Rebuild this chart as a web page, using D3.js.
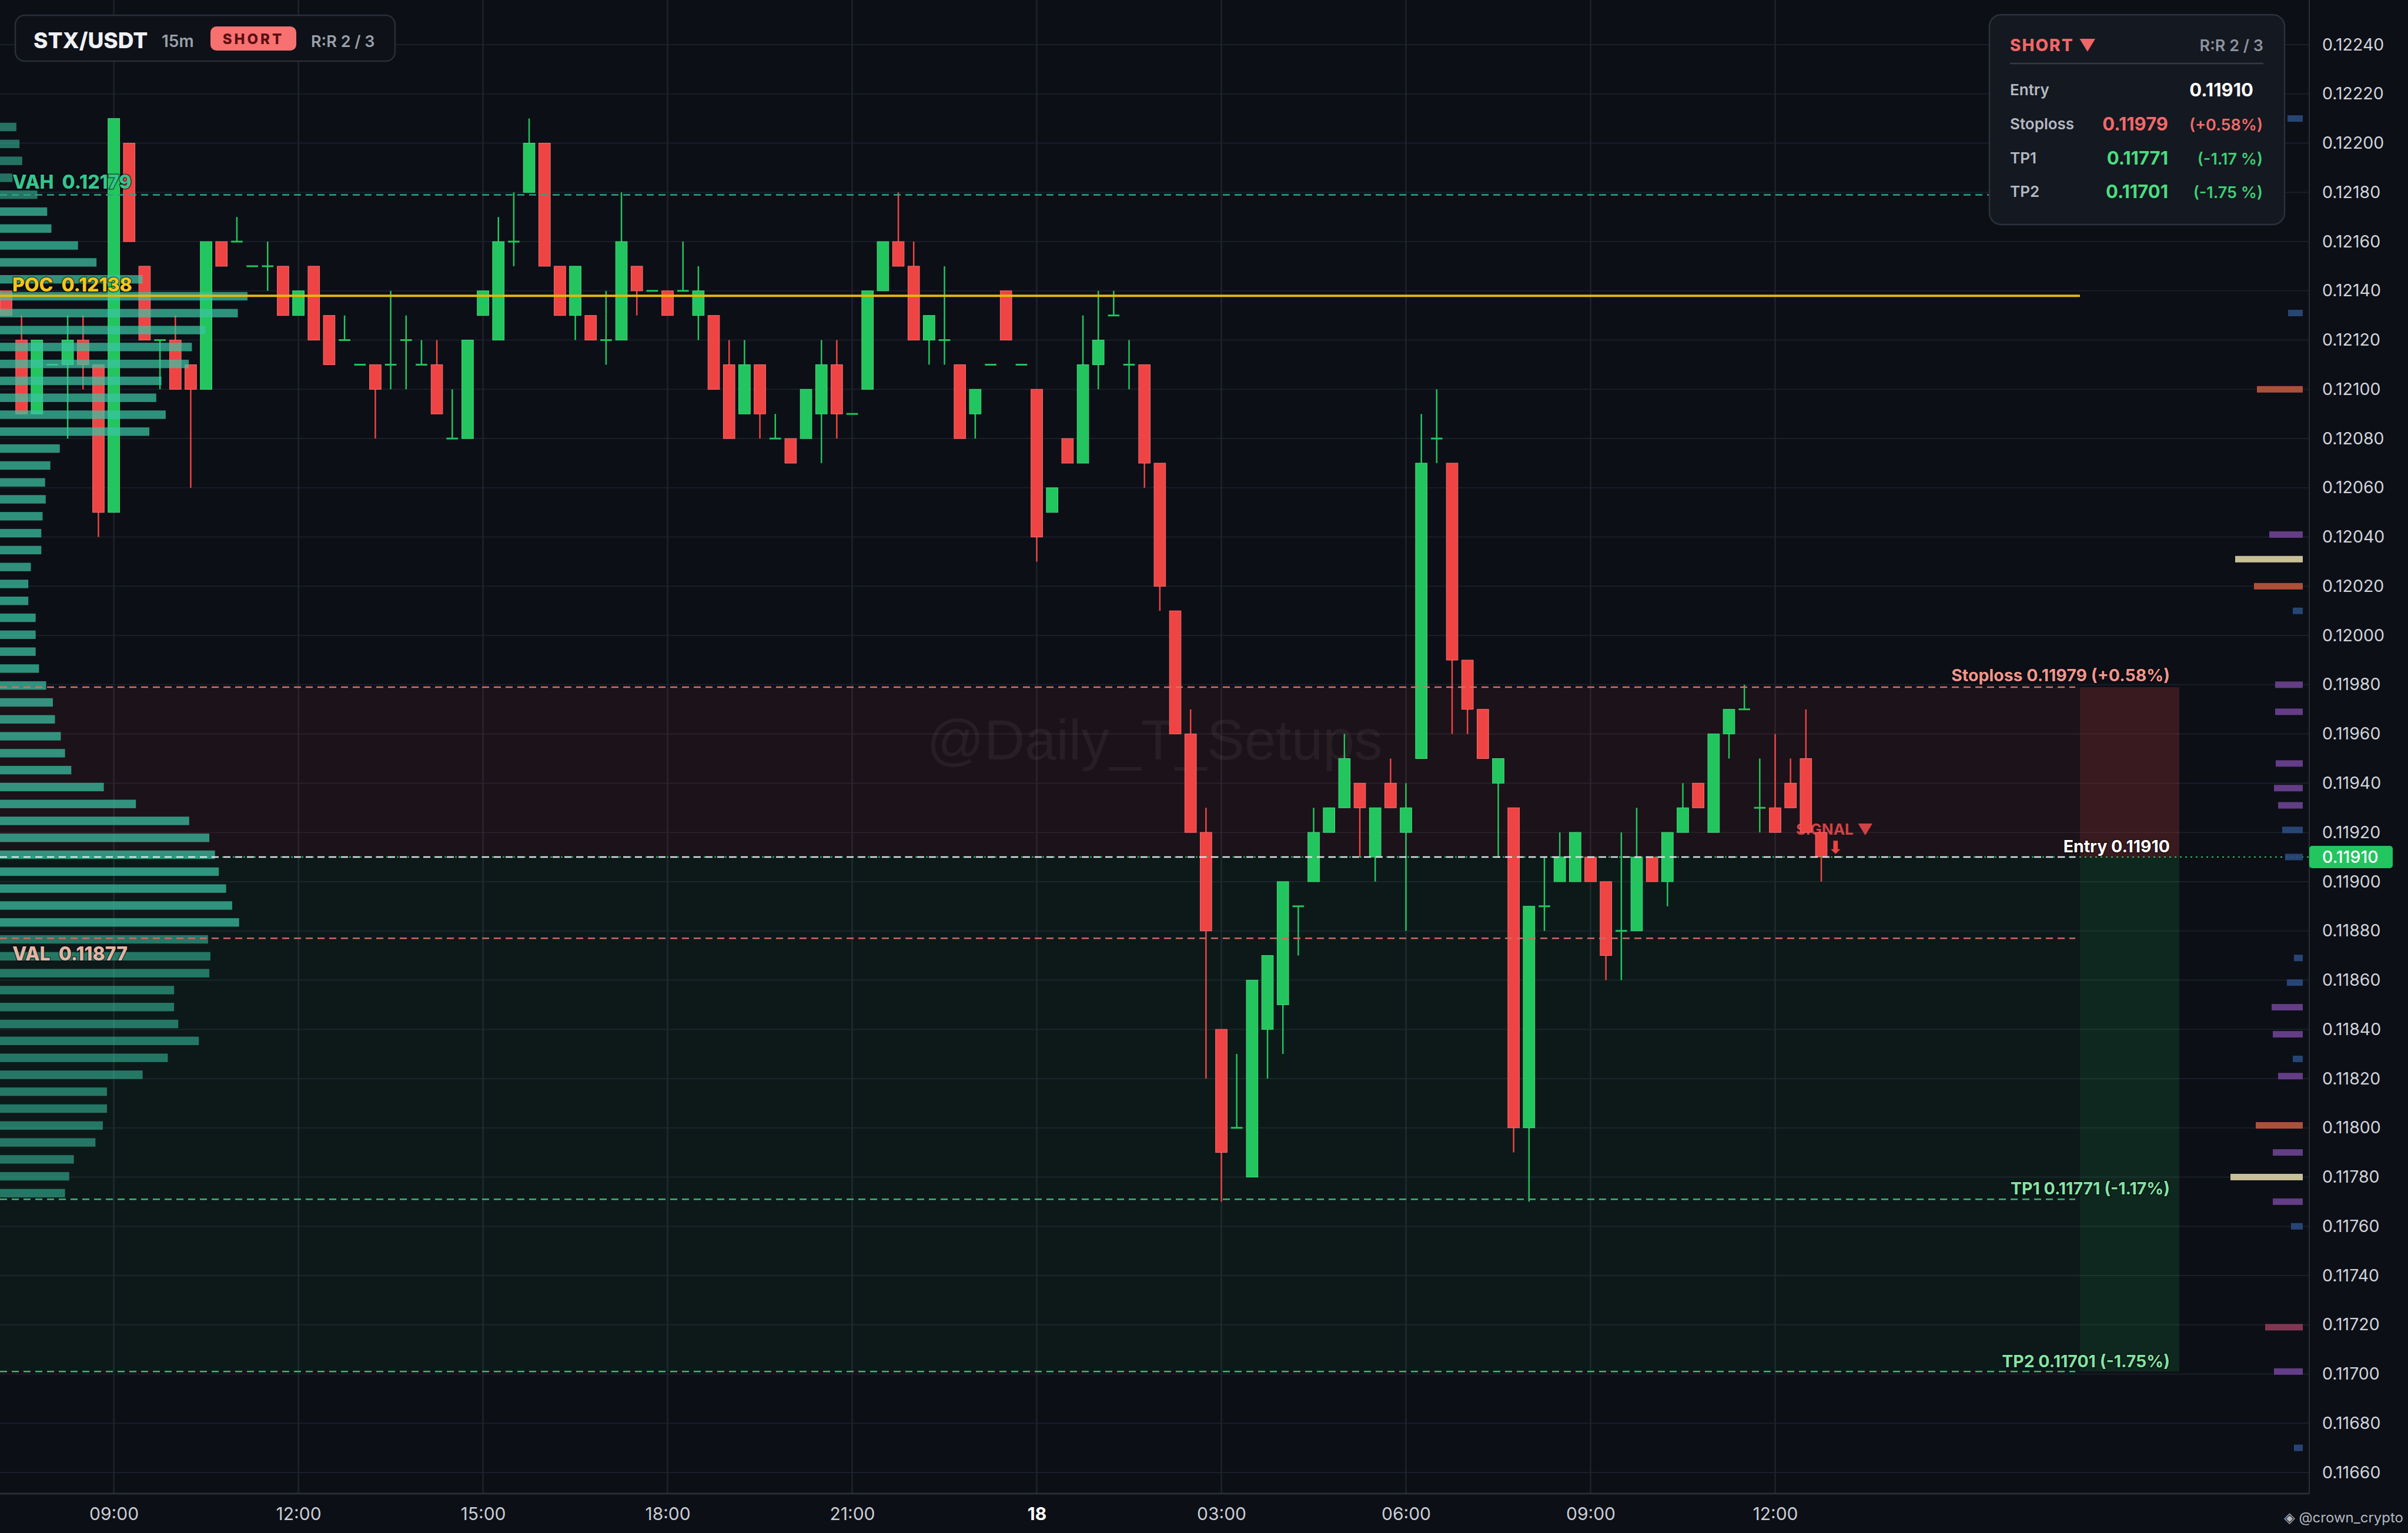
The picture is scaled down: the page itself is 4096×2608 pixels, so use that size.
<!DOCTYPE html>
<html><head><meta charset="utf-8"><title>STX/USDT 15m</title>
<script src="https://cdn.jsdelivr.net/npm/d3@7/dist/d3.min.js"></script>
<style>
html,body{margin:0;padding:0;background:#0c0f16;overflow:hidden}
svg{display:block}
text{font-family:Inter,"Noto Sans","DejaVu Sans",sans-serif}
</style></head><body>
<svg id="c" width="4096" height="2608"></svg>
<script>
// ---------------- DATA ----------------
const candleStart = "2025-06-17T07:15:00Z"; // 15m candles
const opens = [
.1214,.1212,.1209,.1211,.1211,.1212,.1211,.1205,.1220,.1215,
.1212,.1212,.1211,.1210,.1216,.1216,.1215,.1215,.1215,.1213,
.1215,.1213,.1212,.1211,.1211,.1211,.1212,.1211,.1211,.1208,
.1208,.1213,.1212,.1216,.1218,.1220,.1215,.1213,.1213,.1212,
.1212,.1215,.1214,.1214,.1214,.1213,.1213,.1211,.1209,.1211,
.1208,.1208,.1208,.1209,.1211,.1209,.1210,.1214,.1216,.1215,
.1212,.1212,.1211,.1209,.1211,.1214,.1211,.1210,.1205,.1208,
.1207,.1211,.1213,.1211,.1211,.1207,.1201,.1196,.1192,.1184,
.1180,.1178,.1184,.1185,.1189,.1190,.1192,.1193,.1194,.1191,
.1194,.1192,.1195,.1208,.1207,.1199,.1197,.1194,.1193,.1180,
.1189,.1190,.1190,.1191,.1190,.1188,.1188,.1191,.1190,.1192,
.1194,.1192,.1196,.1197,.1193,.1193,.1194,.1195,.1192];
const highs = [
.1214,.1213,.1212,.1211,.1213,.1213,.1211,.1221,.1220,.1215,
.1212,.1213,.1211,.1216,.1216,.1217,.1215,.1216,.1215,.1214,
.1215,.1213,.1213,.1211,.1211,.1214,.1213,.1212,.1212,.1210,
.1212,.1214,.1217,.1218,.1221,.1220,.1215,.1215,.1213,.1214,
.1218,.1215,.1214,.1214,.1216,.1215,.1213,.1212,.1212,.1211,
.1209,.1208,.1210,.1212,.1212,.1209,.1214,.1216,.1218,.1216,
.1213,.1215,.1211,.1210,.1211,.1214,.1211,.1210,.1206,.1208,
.1213,.1214,.1214,.1212,.1211,.1207,.1201,.1197,.1193,.1184,
.1183,.1186,.1187,.1190,.1189,.1193,.1193,.1196,.1194,.1193,
.1195,.1194,.1209,.1210,.1207,.1199,.1197,.1195,.1193,.1189,
.1191,.1192,.1192,.1191,.1190,.1192,.1193,.1191,.1192,.1194,
.1194,.1196,.1197,.1198,.1195,.1196,.1195,.1197,.1192];
const lows = [
.1213,.1209,.1209,.1211,.1208,.1210,.1204,.1205,.1216,.1212,
.1210,.1210,.1206,.1210,.1215,.1216,.1215,.1214,.1213,.1213,
.1212,.1211,.1212,.1211,.1208,.1210,.1210,.1211,.1209,.1208,
.1208,.1213,.1212,.1215,.1218,.1215,.1213,.1212,.1212,.1211,
.1212,.1213,.1214,.1213,.1214,.1212,.1210,.1208,.1209,.1208,
.1208,.1207,.1208,.1207,.1208,.1209,.1210,.1214,.1215,.1212,
.1211,.1211,.1208,.1208,.1211,.1212,.1211,.1203,.1205,.1207,
.1207,.1210,.1213,.1210,.1206,.1201,.1196,.1192,.1182,.1177,
.1180,.1178,.1182,.1183,.1187,.1190,.1192,.1193,.1191,.1190,
.1193,.1188,.1195,.1207,.1196,.1196,.1195,.1191,.1179,.1177,
.1188,.1190,.1190,.1190,.1186,.1186,.1188,.1190,.1189,.1192,
.1193,.1192,.1195,.1197,.1192,.1192,.1193,.1192,.1190];
const closes = [
.1213,.1209,.1212,.1211,.1212,.1211,.1205,.1221,.1216,.1212,
.1212,.1210,.1210,.1216,.1215,.1216,.1215,.1215,.1213,.1214,
.1212,.1211,.1212,.1211,.1210,.1211,.1212,.1211,.1209,.1208,
.1212,.1214,.1216,.1216,.1220,.1215,.1213,.1215,.1212,.1212,
.1216,.1214,.1214,.1213,.1214,.1214,.1210,.1208,.1211,.1209,
.1208,.1207,.1210,.1211,.1209,.1209,.1214,.1216,.1215,.1212,
.1213,.1212,.1208,.1210,.1211,.1212,.1211,.1204,.1206,.1207,
.1211,.1212,.1213,.1211,.1207,.1202,.1196,.1192,.1188,.1179,
.1180,.1186,.1187,.1190,.1189,.1192,.1193,.1195,.1193,.1193,
.1193,.1193,.1207,.1208,.1199,.1197,.1195,.1195,.1180,.1189,
.1189,.1191,.1192,.1190,.1187,.1188,.1191,.1190,.1192,.1193,
.1193,.1196,.1197,.1197,.1193,.1192,.1193,.1192,.1191];

// volume profile, 64 bins from the high of the range down to the low
const profileVolumes = [
7.8,9.3,10.6,6.0,17.8,22.5,24.5,37.2,46.0,68.0,
118.0,113.4,98.0,91.5,90.0,77.0,74.5,79.0,71.2,28.5,
24.0,21.5,21.8,20.3,19.7,19.7,14.7,13.5,13.5,17.0,
17.0,17.0,18.6,22.0,25.2,26.2,29.0,31.0,34.0,49.5,
64.8,90.2,99.8,102.5,104.3,107.8,110.7,114.0,99.2,100.3,
99.8,83.0,83.0,85.0,94.8,80.0,68.0,51.0,51.0,49.0,
45.5,35.2,33.0,31.0];
const vaNames = ["VAH","POC","VAL"];
const vaValues = [0.12179, 0.12138, 0.11877];

const tradeSide = "SHORT";
const tradeRR = "R:R 2 / 3";
const tradeNames = ["Entry","Stoploss","TP1","TP2"];
const tradeValues = [0.11910, 0.11979, 0.11771, 0.11701];
const tradePct = ["", "+0.58%", "-1.17%", "-1.75%"];
const panelPct = ["", "(+0.58%)", "(-1.17 %)", "(-1.75 %)"];

// order-book style markers on the price scale
const depthPrices = [0.12210,0.12131,0.12100,0.12041,0.12031,0.12020,0.12010,0.11980,0.11969,0.11948,0.11938,0.11931,0.11921,0.11910,0.11869,0.11859,0.11849,0.11838,0.11828,0.11821,0.11801,0.11790,0.11780,0.11770,0.11760,0.11719,0.11701,0.11670];
const depthAmounts = [26,25,78,57,115,83,17,47,47,46,49,42,35,30,15,27,53,51,17,42,80,51,123,51,20,64,49,15];
const depthKinds = ["b","b","o","p","c","o","b","p","p","p","p","p","b","b","b","b","p","p","b","p","o","p","c","p","b","r","p","b"];

const priceTicks = [0.1166,0.1168,0.1170,0.1172,0.1174,0.1176,0.1178,0.1180,0.1182,0.1184,0.1186,0.1188,0.1190,0.1192,0.1194,0.1196,0.1198,0.1200,0.1202,0.1204,0.1206,0.1208,0.1210,0.1212,0.1214,0.1216,0.1218,0.1220,0.1222,0.1224];
const timeTicks = ["2025-06-17T09:00:00Z","2025-06-17T12:00:00Z","2025-06-17T15:00:00Z","2025-06-17T18:00:00Z","2025-06-17T21:00:00Z","2025-06-18T00:00:00Z","2025-06-18T03:00:00Z","2025-06-18T06:00:00Z","2025-06-18T09:00:00Z","2025-06-18T12:00:00Z"].map(s=>new Date(s));

const symbol = "STX/USDT", interval = "15m";
const watermark = "@Daily_T_Setups";
const credit = "\u25C8 @crown_crypto";

// ---------------- LAYOUT ----------------
const W=4096, H=2608, plotR=3928, plotB=2541;
const GREEN="#22c55e", RED="#ef4444";
const svg = d3.select("#c");
const t0 = new Date(candleStart);
const candles = opens.map((o,i)=>({t:d3.utcMinute.offset(t0,15*i),o,h:highs[i],l:lows[i],c:closes[i]}));
const x = d3.scaleUtc().domain([timeTicks[0], timeTicks[timeTicks.length-1]]).range([193.6, 3019.5]);
const y = d3.scaleLinear().domain([0.1166, 0.1224]).range([2505, 76]);
const step = x(candles[1].t) - x(candles[0].t);
const bodyW = step*0.75;
const lastX = x(candles[candles.length-1].t);
const lineEnd = 3530, zoneEnd = 3538, zoneBright = 3707, labelEnd = 3691;
const [entry, stop, tp1, tp2] = tradeValues;

svg.append("rect").attr("width",W).attr("height",H).attr("fill","#0c0f16");

// grid
const gh = svg.append("g");
gh.selectAll("line").data(priceTicks).join("line")
  .attr("x1",0).attr("x2",plotR).attr("y1",d=>y(d)).attr("y2",d=>y(d))
  .attr("stroke","#1a1e28").attr("stroke-width",2);
const gv = svg.append("g");
gv.selectAll("line").data(timeTicks).join("line")
  .attr("x1",d=>x(d)).attr("x2",d=>x(d)).attr("y1",0).attr("y2",plotB)
  .attr("stroke","#1f232d").attr("stroke-width",2.5);

// trade zones
const zones = svg.append("g");
zones.append("rect").attr("x",0).attr("y",y(stop)).attr("width",zoneEnd).attr("height",y(entry)-y(stop)).attr("fill","rgba(239,68,68,0.07)");
zones.append("rect").attr("x",zoneEnd).attr("y",y(stop)).attr("width",zoneBright-zoneEnd).attr("height",y(entry)-y(stop)).attr("fill","rgba(239,68,68,0.2)");
zones.append("rect").attr("x",0).attr("y",y(entry)).attr("width",zoneEnd).attr("height",y(tp2)-y(entry)).attr("fill","rgba(34,197,94,0.055)");
zones.append("rect").attr("x",zoneEnd).attr("y",y(entry)).attr("width",zoneBright-zoneEnd).attr("height",y(tp2)-y(entry)).attr("fill","rgba(34,197,94,0.14)");

// watermark
svg.append("text").attr("x",1964).attr("y",1292).attr("text-anchor","middle")
  .style("font-family","'Liberation Sans',Arial,sans-serif").style("font-size","96px")
  .attr("fill","rgba(255,255,255,0.055)").text(watermark);

// signal marker
svg.append("text").attr("x",lastX-43).attr("y",y(entry)-38)
  .style("font-size","26px").style("font-weight","700").attr("fill","#e5484d").attr("opacity",0.9)
  .text("SIGNAL \u25BC");
svg.append("text").attr("x",lastX+24).attr("y",y(entry)-6).attr("text-anchor","middle")
  .style("font-family","'DejaVu Sans',sans-serif").style("font-size","30px").style("font-weight","700").attr("fill","#ef4444")
  .text("\u2B07");

// candles
const cg = svg.append("g");
const cs = cg.selectAll("g").data(candles).join("g");
const col = d=> d.c>=d.o ? GREEN : RED;
cs.append("line").attr("x1",d=>x(d.t)).attr("x2",d=>x(d.t))
  .attr("y1",d=>y(d.h)).attr("y2",d=>y(d.l)).attr("stroke",col).attr("stroke-width",2.5);
cs.append("rect").attr("x",d=>x(d.t)-bodyW/2)
  .attr("y",d=> d.o===d.c ? y(d.o)-1.5 : y(Math.max(d.o,d.c)))
  .attr("width",bodyW)
  .attr("height",d=> d.o===d.c ? 3 : Math.abs(y(d.o)-y(d.c)))
  .attr("fill",col)
  .attr("stroke",d=> d.o===d.c ? "none" : (d.c>=d.o ? "#4ade80" : "#f87171")).attr("stroke-width",1);

// volume profile
const pHi = d3.max(highs), pLo = d3.min(lows), nb = profileVolumes.length, bs = (pHi-pLo)/nb;
const vx = d3.scaleLinear().domain([0, d3.max(profileVolumes)]).range([0, 421]);
const barH = (y(pLo)-y(pHi))/nb*0.5;
svg.append("g").selectAll("rect").data(profileVolumes).join("rect")
  .attr("x",0).attr("y",(v,k)=>y(pHi-(k+0.5)*bs)-barH/2)
  .attr("width",v=>vx(v)).attr("height",barH)
  .attr("fill","#3bc4a4")
  .attr("opacity",(v,k)=>{const p=pHi-(k+0.5)*bs; return (p<=vaValues[0] && p>=vaValues[2]) ? 0.72 : 0.55;});

// level lines
const lines = svg.append("g");
lines.append("line").attr("x1",0).attr("x2",plotR).attr("y1",y(entry)).attr("y2",y(entry))
  .attr("stroke",GREEN).attr("stroke-width",2).attr("stroke-dasharray","3 6");
const dashed = [
  {v:vaValues[0], c:"#2aa587", end:lineEnd},
  {v:vaValues[2], c:"#d0695f", end:lineEnd},
  {v:stop, c:"#dc6d65", end:lineEnd},
  {v:entry, c:"#dfe3ea", end:lineEnd},
  {v:tp1, c:"#3fb673", end:lineEnd},
  {v:tp2, c:"#3fb673", end:lineEnd}];
lines.selectAll("line.d").data(dashed).join("line").attr("class","d")
  .attr("x1",0).attr("x2",d=>d.end).attr("y1",d=>y(d.v)).attr("y2",d=>y(d.v))
  .attr("stroke",d=>d.c).attr("stroke-width",2.5).attr("stroke-dasharray","12 8");
lines.append("line").attr("x1",0).attr("x2",zoneEnd).attr("y1",y(vaValues[1])).attr("y2",y(vaValues[1]))
  .attr("stroke","#e5b80b").attr("stroke-width",4);

// VA labels
const vaCol = ["#36c48f","#f5c518","#e3b4a4"];
const vaDy = [-10, -7, 38];
svg.append("g").selectAll("text").data(vaValues).join("text")
  .attr("x",21).attr("y",(v,i)=>y(v)+vaDy[i])
  .style("font-size","32px").style("font-weight","800").style("white-space","pre")
  .attr("fill",(v,i)=>vaCol[i]).attr("stroke","rgba(0,0,0,0.55)").attr("stroke-width",3).attr("paint-order","stroke")
  .text((v,i)=>vaNames[i]+"  "+d3.format(".5f")(v));

// trade labels on chart
const tl = [
  {t:`Stoploss ${d3.format(".5f")(stop)} (${tradePct[1]})`, v:stop, c:"#f2968d", dy:-10},
  {t:`Entry ${d3.format(".5f")(entry)}`, v:entry, c:"#ffffff", dy:-8},
  {t:`TP1 ${d3.format(".5f")(tp1)} (${tradePct[2]})`, v:tp1, c:"#86e3a6", dy:-8},
  {t:`TP2 ${d3.format(".5f")(tp2)} (${tradePct[3]})`, v:tp2, c:"#86e3a6", dy:-7}];
svg.append("g").selectAll("text").data(tl).join("text")
  .attr("x",labelEnd).attr("y",d=>y(d.v)+d.dy).attr("text-anchor","end")
  .style("font-size","28.5px").style("font-weight","700").attr("fill",d=>d.c)
  .attr("stroke","rgba(0,0,0,0.5)").attr("stroke-width",3).attr("paint-order","stroke")
  .text(d=>d.t);

// price-scale markers
const kindCol = {b:"#2a4b7e", p:"#6d4391", o:"#c0583c", c:"#ddd3a4", r:"#8e3c58"};
const dx = d3.scaleLinear().domain([0,123]).range([0,123]);
svg.append("g").selectAll("rect").data(depthPrices).join("rect")
  .attr("x",(p,i)=>3917-dx(depthAmounts[i])).attr("y",p=>y(p)-5.5)
  .attr("width",(p,i)=>dx(depthAmounts[i])).attr("height",11)
  .attr("fill",(p,i)=>kindCol[depthKinds[i]]).attr("opacity",0.9);

// right axis
svg.append("rect").attr("x",plotR).attr("y",0).attr("width",W-plotR).attr("height",H).attr("fill","#0c0f16");
svg.append("line").attr("x1",plotR).attr("x2",plotR).attr("y1",0).attr("y2",plotB).attr("stroke","#2a2e39").attr("stroke-width",2);
const ya = svg.append("g").attr("transform",`translate(${plotR},0)`)
  .call(d3.axisRight(y).tickValues(priceTicks).tickFormat(d3.format(".5f")).tickSize(0).tickPadding(22));
ya.select(".domain").remove();
ya.selectAll("text").attr("fill","#d1d4dc").style("font-size","28.5px").style("font-family","Inter,sans-serif");
// current price tag
svg.append("rect").attr("x",plotR).attr("y",y(entry)-19).attr("width",142).attr("height",38).attr("rx",5).attr("fill",GREEN);
svg.append("text").attr("x",plotR+22).attr("y",y(entry)).attr("dy","0.35em")
  .style("font-size","28.5px").style("font-weight","500").attr("fill","#ffffff").text(d3.format(".5f")(entry));

// bottom axis
svg.append("rect").attr("x",0).attr("y",plotB).attr("width",plotR).attr("height",H-plotB).attr("fill","#0c0f16");
svg.append("line").attr("x1",0).attr("x2",plotR).attr("y1",plotB).attr("y2",plotB).attr("stroke","#2a2e39").attr("stroke-width",3);
const fmt = d => d.getUTCHours()===0 ? d3.utcFormat("%-d")(d) : d3.utcFormat("%H:%M")(d);
const xa = svg.append("g").attr("transform",`translate(0,${plotB})`)
  .call(d3.axisBottom(x).tickValues(timeTicks).tickFormat(fmt).tickSize(0).tickPadding(24));
xa.select(".domain").remove();
xa.selectAll("text").attr("fill",d=>d.getUTCHours()===0?"#ffffff":"#c9cdd5")
  .style("font-size","30px").style("font-family","Inter,sans-serif")
  .style("font-weight",d=>d.getUTCHours()===0?"700":"400");

svg.append("text").attr("x",4088).attr("y",2590).attr("text-anchor","end")
  .style("font-size","24px").attr("fill","#b4b8c0").text(credit);

// header box
const hb = svg.append("g");
hb.append("rect").attr("x",26).attr("y",26).attr("width",646).attr("height",78).attr("rx",16)
  .attr("fill","#0e1118").attr("stroke","#2a2e38").attr("stroke-width",2.5);
hb.append("text").attr("x",57).attr("y",82).style("font-size","37px").style("font-weight","800").attr("fill","#eef0f4").text(symbol);
hb.append("text").attr("x",275).attr("y",80).style("font-size","28px").style("font-weight","600").attr("fill","#9aa0ab").text(interval);
hb.append("rect").attr("x",358).attr("y",45).attr("width",146).attr("height",41).attr("rx",10).attr("fill","#f87171");
hb.append("text").attr("x",431).attr("y",75).attr("text-anchor","middle").style("font-size","24px").style("font-weight","800")
  .style("letter-spacing","4px").attr("fill","#5a1010").text(tradeSide);
hb.append("text").attr("x",529).attr("y",80).style("font-size","27px").style("font-weight","600").attr("fill","#9aa0ab").text(tradeRR);

// info panel
const ip = svg.append("g");
ip.append("rect").attr("x",3384).attr("y",25).attr("width",502).attr("height",357).attr("rx",20)
  .attr("fill","#141820").attr("stroke","#2c313c").attr("stroke-width",2.5);
ip.append("text").attr("x",3419).attr("y",87).style("font-size","28px").style("font-weight","800")
  .style("letter-spacing","2px").attr("fill","#f06767").text(tradeSide+" \u25BC");
ip.append("text").attr("x",3850).attr("y",87).attr("text-anchor","end").style("font-size","27px").style("font-weight","600")
  .attr("fill","#8d939e").text(tradeRR);
ip.append("line").attr("x1",3419).attr("x2",3850).attr("y1",108).attr("y2",108).attr("stroke","#343a46").attr("stroke-width",2.5);
const rowY = [162,220,278,335];
const valCol = ["#ffffff","#f06a6a","#4ade80","#4ade80"];
const pctCol = ["#ffffff","#ee6b6b","#3ecf74","#3ecf74"];
tradeNames.forEach((n,i)=>{
  ip.append("text").attr("x",3419).attr("y",rowY[i]).style("font-size","26px").style("font-weight","600").attr("fill","#b4b9c3").text(n);
  ip.append("text").attr("x", i===0?3833:3688).attr("y",rowY[i]+2).attr("text-anchor","end")
    .style("font-size","31px").style("font-weight","700").attr("fill",valCol[i]).text(d3.format(".5f")(tradeValues[i]));
  if(panelPct[i]) ip.append("text").attr("x",3849).attr("y",rowY[i]+2).attr("text-anchor","end")
    .style("font-size","27px").style("font-weight","600").attr("fill",pctCol[i]).text(panelPct[i]);
});
</script>
</body></html>
